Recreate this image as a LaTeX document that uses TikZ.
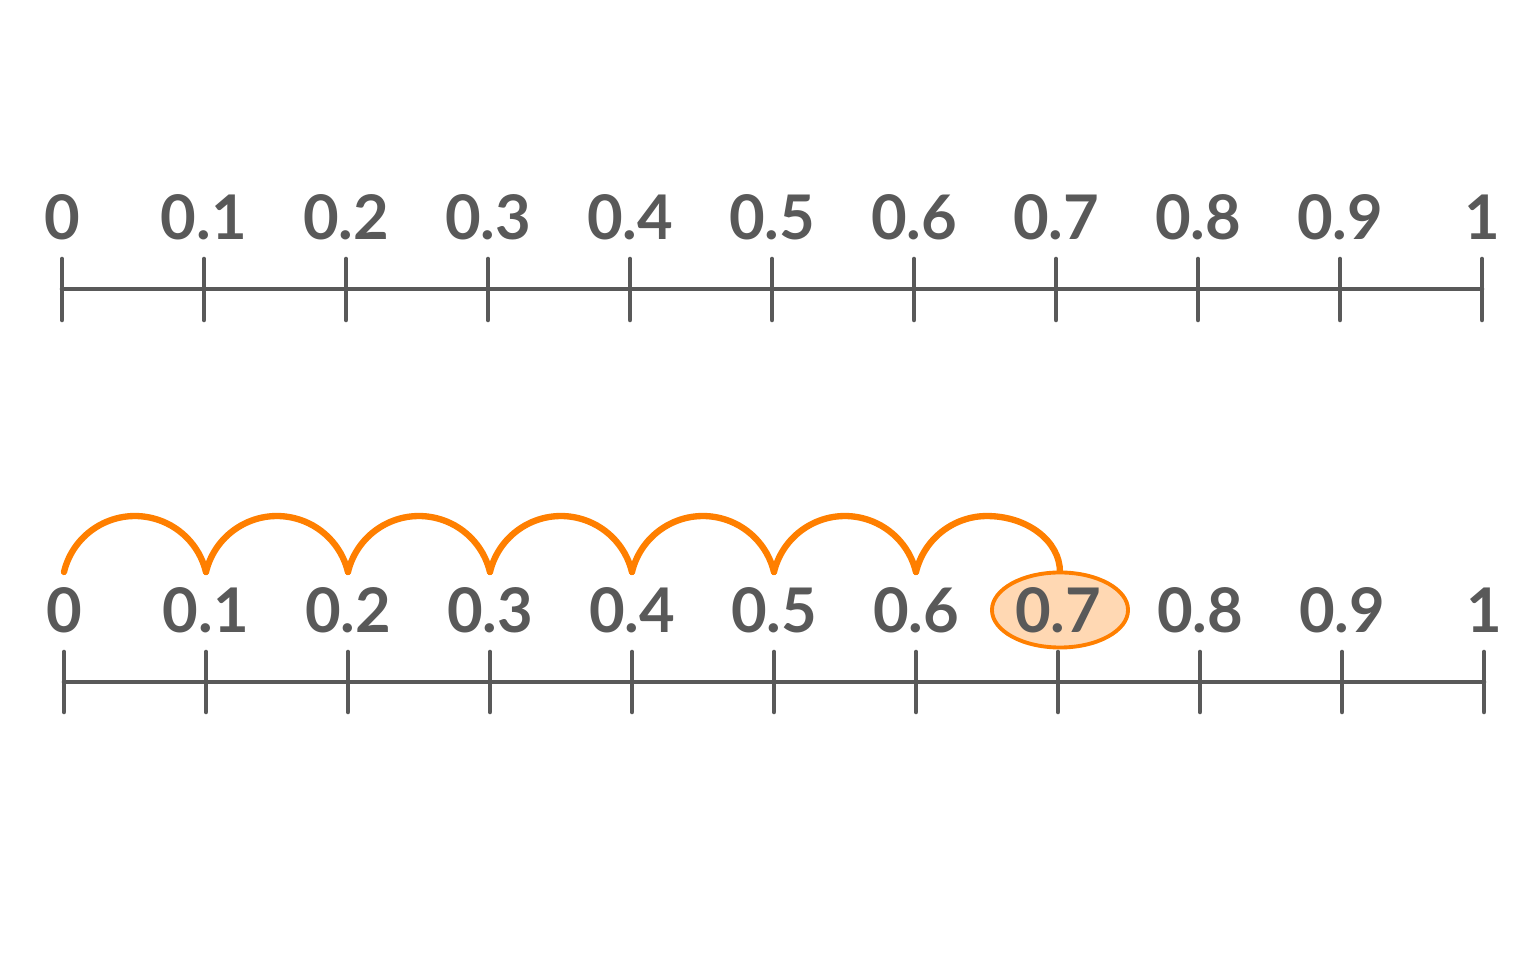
\documentclass[tikz,border=0pt]{standalone}
\usepackage{fontspec}
\setmainfont{Lato}
\usetikzlibrary{shapes.geometric}
\definecolor{axisgrey}{HTML}{595959}
\definecolor{hop}{HTML}{FF7F00}
\definecolor{hopfill}{HTML}{FFD8B3}
\tikzset{
  num/.style={text=axisgrey, font=\fontsize{17.5}{17.5}\selectfont\bfseries, inner sep=0pt, anchor=base},
  axis/.style={draw=axisgrey, line width=1.3pt, line cap=round},
  jump/.style={draw=hop, line width=1.8pt, line cap=round},
  ring/.style={ellipse, draw=hop, fill=hopfill, line width=1.1pt, minimum width=1.36cm, minimum height=0.75cm, inner sep=0pt}
}

\begin{document}
\begin{tikzpicture}[x=0.01cm, y=0.01cm]
    \useasboundingbox (0,0) rectangle (1536,961);
    % upper number line
    \draw[axis] (62,672) -- (1482,672);
    \foreach \i/\txt in {0/0,1/0.1,2/0.2,3/0.3,4/0.4,5/0.5,6/0.6,7/0.7,8/0.8,9/0.9,10/1} {
        \node[num] (t\i) at (62+142*\i,721) {\txt};
        \draw[axis] (62+142*\i,702) -- (62+142*\i,641);
    }
    % lower number line with the jumps
    \node[ring] (hl) at (1060,351) {};
    \draw[axis] (64,279) -- (1484,279);
    \foreach \i/\txt in {0/0,1/0.1,2/0.2,3/0.3,4/0.4,5/0.5,6/0.6,7/0.7,8/0.8,9/0.9,10/1} {
        \node[num] (b\i) at (64+142*\i,328) {\txt};
        \draw[axis] (64+142*\i,309) -- (64+142*\i,249);
        \coordinate (j\i) at (64+142*\i,389);
    }
    \foreach \i in {0,...,5}
        \draw[jump] (j\i) arc[start angle=166.5, end angle=13.5, radius=73];
    \draw[jump] (j6) arc[start angle=166.5, end angle=90, radius=73]
        arc[start angle=90, end angle=0, x radius=73, y radius=56] -- (hl.north);
\end{tikzpicture}
\end{document}
